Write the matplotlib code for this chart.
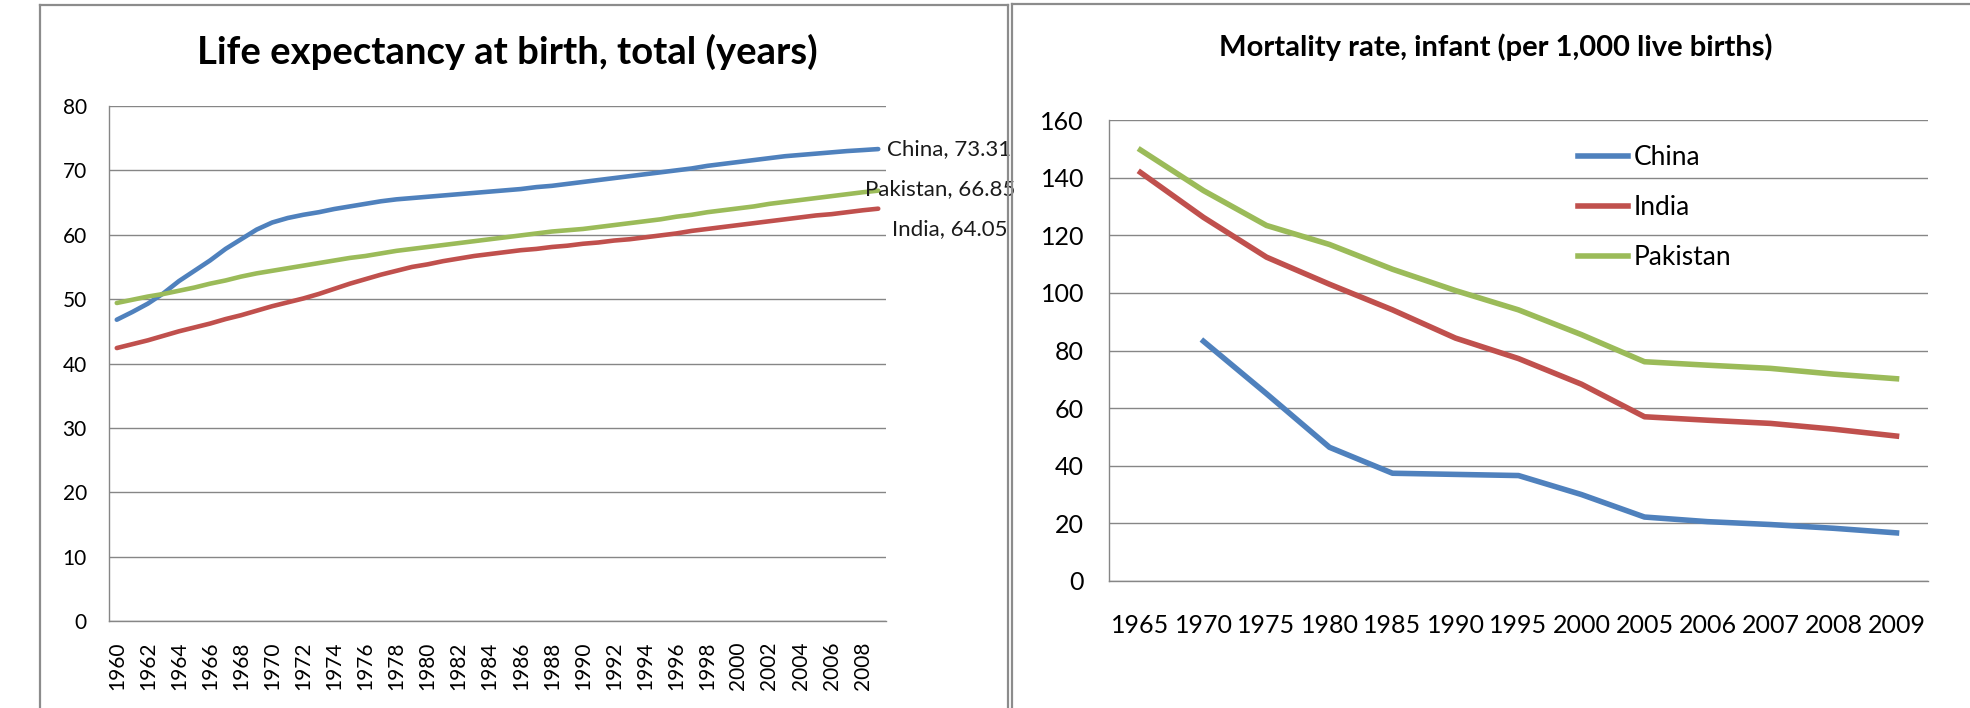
import numpy as np
import matplotlib
matplotlib.use("Agg")
import matplotlib.pyplot as plt
from matplotlib.lines import Line2D

plt.rcParams['font.family'] = ['Lato', 'DejaVu Sans']

# life expectancy at birth, 1960-2009
years = list(range(1960, 2010))
china_life = [46.8, 48.0, 49.3, 50.9, 52.8, 54.4, 56.0, 57.8, 59.3, 60.8,
              61.9, 62.6, 63.1, 63.5, 64.0, 64.4, 64.8, 65.2, 65.5, 65.7,
              65.9, 66.1, 66.3, 66.5, 66.7, 66.9, 67.1, 67.4, 67.6, 67.9,
              68.2, 68.5, 68.8, 69.1, 69.4, 69.7, 70.0, 70.3, 70.7, 71.0,
              71.3, 71.6, 71.9, 72.2, 72.4, 72.6, 72.8, 73.0, 73.15, 73.31]
india_life = [42.4, 43.0, 43.6, 44.3, 45.0, 45.6, 46.2, 46.9, 47.5, 48.2,
              48.9, 49.5, 50.1, 50.8, 51.6, 52.4, 53.1, 53.8, 54.4, 55.0,
              55.4, 55.9, 56.3, 56.7, 57.0, 57.3, 57.6, 57.8, 58.1, 58.3,
              58.6, 58.8, 59.1, 59.3, 59.6, 59.9, 60.2, 60.6, 60.9, 61.2,
              61.5, 61.8, 62.1, 62.4, 62.7, 63.0, 63.2, 63.5, 63.8, 64.05]
pakistan_life = [49.4, 49.9, 50.4, 50.8, 51.3, 51.8, 52.4, 52.9, 53.5, 54.0,
                 54.4, 54.8, 55.2, 55.6, 56.0, 56.4, 56.7, 57.1, 57.5, 57.8,
                 58.1, 58.4, 58.7, 59.0, 59.3, 59.6, 59.9, 60.2, 60.5, 60.7,
                 60.9, 61.2, 61.5, 61.8, 62.1, 62.4, 62.8, 63.1, 63.5, 63.8,
                 64.1, 64.4, 64.8, 65.1, 65.4, 65.7, 66.0, 66.3, 66.6, 66.85]

# infant mortality rate (per 1,000 live births)
mort_years = ["1965", "1970", "1975", "1980", "1985", "1990", "1995",
              "2000", "2005", "2006", "2007", "2008", "2009"]
china_mort = [np.nan, 83.2, 65.0, 46.4, 37.4, 37.0, 36.6, 30.0, 22.2, 20.6, 19.6, 18.3, 16.7]
india_mort = [141.8, 126.2, 112.4, 103.0, 94.1, 84.3, 77.2, 68.3, 57.0, 55.8, 54.7, 52.7, 50.3]
pakistan_mort = [149.6, 135.5, 123.4, 116.8, 108.2, 100.8, 94.1, 85.5, 76.1, 74.9, 73.8, 71.8, 70.2]

countries = ["China", "India", "Pakistan"]
colors = {"China": "#4F81BD", "India": "#C0504D", "Pakistan": "#9BBB59"}
grid_col = "#868686"

W, H = 1970, 708
fig = plt.figure(figsize=(W / 100, H / 100), dpi=100)


def fx(px):
    return px / W


def fy(py):
    return 1 - py / H


# panel borders
border = dict(color="#8c8c8c", lw=1.6, transform=fig.transFigure)
for xs, ys in [((40, 40), (5, H)), ((40, 1008), (5, 5)), ((1008, 1008), (5, H)),
               ((1012, 1012), (4, H)), ((1012, W), (4, 4))]:
    fig.add_artist(Line2D([fx(x) for x in xs], [fy(y) for y in ys], **border))


def style_axes(ax):
    ax.grid(axis="y", color=grid_col, lw=1.0)
    ax.set_axisbelow(True)
    for s in ["top", "right"]:
        ax.spines[s].set_visible(False)
    for s in ["left", "bottom"]:
        ax.spines[s].set_color(grid_col)
        ax.spines[s].set_linewidth(1.0)
    ax.tick_params(length=0)


# ---- left: life expectancy ----
ax1 = fig.add_axes([fx(109), fy(621), fx(886 - 109), (621 - 106) / H])
x1 = np.arange(len(years))
life = {"China": china_life, "India": india_life, "Pakistan": pakistan_life}
for name in countries:
    ax1.plot(x1, life[name], color=colors[name], lw=3.3, solid_capstyle="round")
ax1.set_xlim(-0.5, len(years) - 0.5)
ax1.set_ylim(0, 80)
ax1.set_yticks(range(0, 81, 10))
ax1.set_xticks(x1[::2])
ax1.set_xticklabels([str(y) for y in years[::2]], rotation=90, fontsize=15)
ax1.tick_params(axis="y", labelsize=15, pad=16)
ax1.tick_params(axis="x", pad=15)
style_axes(ax1)

offsets = {"China": (9, 0), "Pakistan": (-13, 2), "India": (14, -20)}
for name in countries:
    vals = life[name]
    ax1.annotate(f"{name}, {vals[-1]:.2f}", xy=(x1[-1], vals[-1]),
                 xytext=offsets[name], textcoords="offset pixels",
                 ha="left", va="center", fontsize=16, color="#1a1a1a",
                 annotation_clip=False)

fig.text(fx(507), fy(52), "Life expectancy at birth, total (years)",
         ha="center", va="center", fontsize=27.5, fontweight="bold")

# ---- right: infant mortality ----
ax2 = fig.add_axes([fx(1109), fy(581), fx(1928 - 1109), (581 - 120) / H])
x2 = np.arange(len(mort_years))
mort = {"China": china_mort, "India": india_mort, "Pakistan": pakistan_mort}
for name in countries:
    ax2.plot(x2, mort[name], color=colors[name], lw=4.0, label=name)
ax2.set_xlim(-0.5, len(mort_years) - 0.5)
ax2.set_ylim(0, 160)
ax2.set_yticks(range(0, 161, 20))
ax2.set_xticks(x2)
ax2.set_xticklabels(mort_years, fontsize=18)
ax2.tick_params(axis="y", labelsize=18, pad=18)
ax2.tick_params(axis="x", pad=24)
style_axes(ax2)

ax2.legend(loc="upper left", bbox_to_anchor=((1578 - 1109) / 819, (581 - 145) / 461),
           frameon=False, fontsize=19, handlelength=1.9, handletextpad=0.2,
           labelspacing=0.95, borderpad=0, borderaxespad=0)

fig.text(fx(1496), fy(47), "Mortality rate, infant (per 1,000 live births)",
         ha="center", va="center", fontsize=21, fontweight="bold")

fig.savefig("out.png", dpi=100, facecolor="white")
